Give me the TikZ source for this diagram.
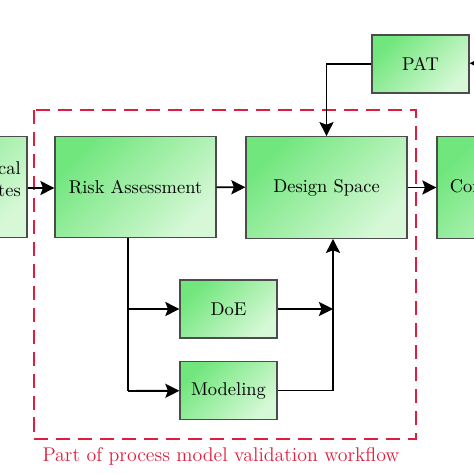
\documentclass[tikz,border=0pt]{standalone}
\usetikzlibrary{arrows.meta}

\definecolor{verdeescuro}{RGB}{112,230,124}
\definecolor{verdeclaro}{RGB}{214,248,214}
\definecolor{vermelho}{RGB}{222,30,62}

\begin{document}
\begin{tikzpicture}[x=0.02cm, y=-0.02cm,
	caixa/.style = {draw=black!70, line width=0.7pt, top color=verdeescuro, bottom color=verdeclaro, shading angle=45, inner sep=3pt, font=\fontsize{10.5}{12.5}\selectfont},
	grande/.style = {caixa, minimum width=3.22cm, minimum height=2.03cm},
	pequena/.style = {caixa, minimum width=1.94cm, minimum height=1.16cm},
	seta/.style = {line width=1.1pt, -{Stealth[length=8pt, width=8pt, inset=1.5pt]}},
	linha/.style = {line width=1.1pt},
	tracejado/.style = {draw=vermelho, line width=1.2pt, dash pattern=on 8pt off 4.5pt}]
		\useasboundingbox (0,0) rectangle (474,474);
		
		\draw[tracejado] (34,110) rectangle (416,439);
		\node[text=vermelho, font=\fontsize{11.3}{13}\selectfont] (rotulo) at (221,456) {Part of process model validation workflow};
		
		\node[grande] (CQA) at (-53.5,187) {};
		\node[anchor=east, align=right, font=\fontsize{10.5}{12.5}\selectfont] (CQAtexto) at (27,179) {Critical\\Attributes};
		\node[grande] (RA) at (135.5,187) {Risk Assessment};
		\node[grande] (DS) at (326.5,187.5) {Design Space};
		\node[grande] (CS) at (517.5,187.5) {Control Strategy};
		\node[pequena] (PAT) at (420.5,64) {PAT};
		\node[pequena] (DoE) at (228.5,309) {DoE};
		\node[pequena] (MOD) at (228.5,390.5) {Modeling};
		
		\coordinate (entrada) at (490,63);
		\coordinate (J1) at (128,391);
		\coordinate (J2) at (333,391);
		
		\draw[seta] (CQA.east |- 0,188) -- (RA.west |- 0,188);
		\draw[seta] (RA) -- (DS);
		\draw[seta] (DS) -- (CS);
		\draw[seta] (entrada) -- (PAT);
		\draw[seta] (PAT.west) -| (DS.north);
		\draw[linha] (RA.south -| J1) -- (J1);
		\draw[seta] (DoE -| J1) -- (DoE);
		\draw[seta] (J1) -- (MOD);
		\draw[seta] (DoE) -- (DoE -| J2);
		\draw[seta] (MOD.east) -| (DS.south -| J2);
	\end{tikzpicture}
\end{document}
